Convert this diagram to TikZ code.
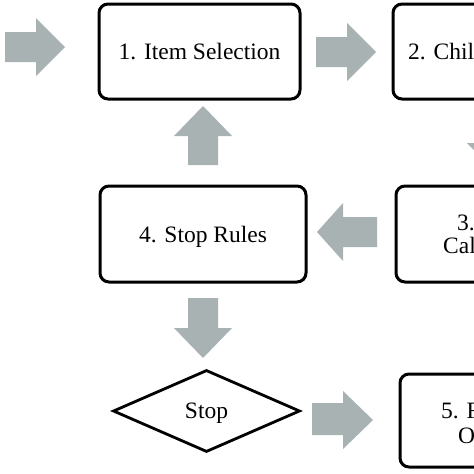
\documentclass[tikz,border=0pt]{standalone}
\usepackage{fontspec}
\setmainfont{Liberation Serif}
\usetikzlibrary{shapes.geometric}
\definecolor{arrowgray}{RGB}{168,178,178}
\newcommand{\flowfont}{\fontsize{23.5}{23}\selectfont}
\begin{document}
\begin{tikzpicture}[x=1pt,y=-1pt,
  box/.style={draw=black, line width=3pt, rounded corners=9pt, inner sep=0pt,
    text depth=0pt, font=\flowfont},
  decision/.style={draw=black, shape=diamond, line width=2.8pt, inner sep=0pt,
    text depth=0pt, font=\flowfont},
  lbl/.style={anchor=base west, inner sep=0pt, font=\flowfont},
  blk/.style={fill=arrowgray}]
\useasboundingbox (0,0) rectangle (474,474);
\clip (0,0) rectangle (474,474);
% boxes
\node[box, minimum width=201pt, minimum height=95pt] (b1) at (199.5,51.5) {1. Item Selection};
\node[box, minimum width=201pt, minimum height=95pt] (b2) at (493.5,51.5) {};
\node[box, minimum width=206pt, minimum height=96pt] (b4) at (203,234) {4. Stop Rules};
\node[box, minimum width=206pt, minimum height=96pt] (b3) at (499,234) {};
\node[box, minimum width=206pt, minimum height=93pt] (b5) at (503,420.5) {};
\node[decision, minimum width=187pt, minimum height=82pt] (d) at (206.5,411) {Stop};
% partial labels of cropped boxes
\node[lbl] (t2) at (408,59) {2. Child};
\node[lbl] (t3a) at (457,230) {3.};
\node[lbl] (t3b) at (443,253) {Cal};
\node[lbl] (t5a) at (441,418) {5. F};
\node[lbl] (t5b) at (458,443) {O};
% block arrows
\fill[blk] (5,32) -- (36,32) -- (36,18) -- (65,47) -- (36,76) -- (36,62) -- (5,62) -- cycle;
\fill[blk] (316,37) -- (347,37) -- (347,23) -- (376,52) -- (347,81) -- (347,67) -- (316,67) -- cycle;
\fill[blk] (188,165) -- (188,136) -- (174,136) -- (203,106) -- (232,136) -- (218,136) -- (218,165) -- cycle;
\fill[blk] (482,113) -- (482,143) -- (467,143) -- (496,173) -- (525,143) -- (511,143) -- (511,113) -- cycle;
\fill[blk] (377,217) -- (343,217) -- (343,203) -- (317,232) -- (343,261) -- (343,247) -- (377,247) -- cycle;
\fill[blk] (188,298) -- (218,298) -- (218,328) -- (232,328) -- (203,358) -- (174,328) -- (188,328) -- cycle;
\fill[blk] (312,403) -- (343,403) -- (343,391) -- (373,420) -- (343,449) -- (343,435) -- (312,435) -- cycle;
\end{tikzpicture}
\end{document}
